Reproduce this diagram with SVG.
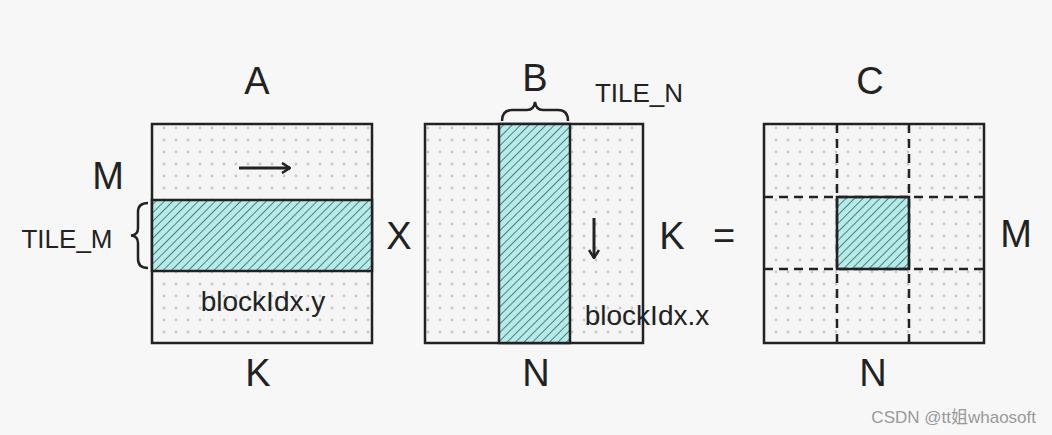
<svg xmlns="http://www.w3.org/2000/svg" width="1052" height="435" viewBox="0 0 1052 435">
<defs>
<pattern id="dots" width="12" height="12" patternUnits="userSpaceOnUse" x="2" y="2"><rect width="12" height="12" fill="#f5f5f5"/><circle cx="6" cy="6" r="1.4" fill="#c8c8c8"/></pattern>
<pattern id="hatch" width="6" height="6" patternUnits="userSpaceOnUse" patternTransform="rotate(45)"><rect width="6" height="6" fill="#b5ecea"/><line x1="0" y1="0" x2="0" y2="6" stroke="#1f3f40" stroke-width="1.3"/></pattern>
<marker id="ah" viewBox="0 0 12 12" refX="11" refY="6" markerWidth="12" markerHeight="12" orient="auto" markerUnits="userSpaceOnUse"><path d="M3 1 L11 6 L3 11" fill="none" stroke="#222" stroke-width="2.5"/></marker>
</defs>
<style>
text{font-family:"Liberation Sans",Arial,sans-serif;fill:#222}
.big{font-size:38px}
.mid{font-size:28px}
.sm{font-size:26px}
.box{stroke:#222;stroke-width:2.5}
.dash{stroke:#222;stroke-width:2.5;stroke-dasharray:9 6;fill:none}
</style>
<rect width="1052" height="435" fill="#f7f7f7"/>
<g id="A">
<rect class="box" x="152" y="124" width="220" height="219" fill="url(#dots)"/>
<rect class="box" x="152" y="200" width="220" height="71" fill="url(#hatch)"/>
<text class="big" x="257" y="94" text-anchor="middle">A</text>
<text class="big" x="108" y="189" text-anchor="middle">M</text>
<text class="big" x="258" y="386" text-anchor="middle">K</text>
<text class="sm" x="67" y="248" text-anchor="middle">TILE_M</text>
<path d="M148 203 Q138 203 138 212 L138 228 Q138 235 131 235.5 Q138 236 138 243 L138 259 Q138 268 148 268" fill="none" stroke="#222" stroke-width="2.5"/>
<text class="mid" x="263" y="311" text-anchor="middle">blockIdx.y</text>
<line x1="239" y1="168" x2="290" y2="168" stroke="#222" stroke-width="3" marker-end="url(#ah)"/>
</g>
<text class="big" x="399" y="249" text-anchor="middle">X</text>
<g id="B">
<rect class="box" x="425" y="124" width="218" height="219" fill="url(#dots)"/>
<rect class="box" x="499" y="124" width="71" height="219" fill="url(#hatch)"/>
<text class="big" x="535" y="91" text-anchor="middle">B</text>
<path d="M502 121 Q502 110 512 110 L527 110 Q534 110 535 102 Q536 110 543 110 L558 110 Q568 110 568 121" fill="none" stroke="#222" stroke-width="2.5"/>
<text class="sm" x="639" y="102" text-anchor="middle">TILE_N</text>
<text class="big" x="536" y="386" text-anchor="middle">N</text>
<text class="big" x="672" y="249" text-anchor="middle">K</text>
<text class="mid" x="647" y="325" text-anchor="middle">blockIdx.x</text>
<line x1="594" y1="218" x2="594" y2="258" stroke="#222" stroke-width="3" marker-end="url(#ah)"/>
</g>
<text class="big" x="724" y="249" text-anchor="middle">=</text>
<g id="C">
<rect class="box" x="764" y="124" width="220" height="219" fill="url(#dots)"/>
<rect class="box" x="837" y="197" width="72" height="72" fill="url(#hatch)"/>
<line class="dash" x1="837" y1="124" x2="837" y2="343"/>
<line class="dash" x1="909" y1="124" x2="909" y2="343"/>
<line class="dash" x1="764" y1="197" x2="984" y2="197"/>
<line class="dash" x1="764" y1="269" x2="984" y2="269"/>
<text class="big" x="870" y="94" text-anchor="middle">C</text>
<text class="big" x="1016" y="247" text-anchor="middle">M</text>
<text class="big" x="873" y="386" text-anchor="middle">N</text>
</g>
<text x="1036" y="423" text-anchor="end" style="font-size:17px;fill:#999;font-family:'Liberation Sans','Noto Sans CJK SC',sans-serif">CSDN @tt姐whaosoft</text>
</svg>
